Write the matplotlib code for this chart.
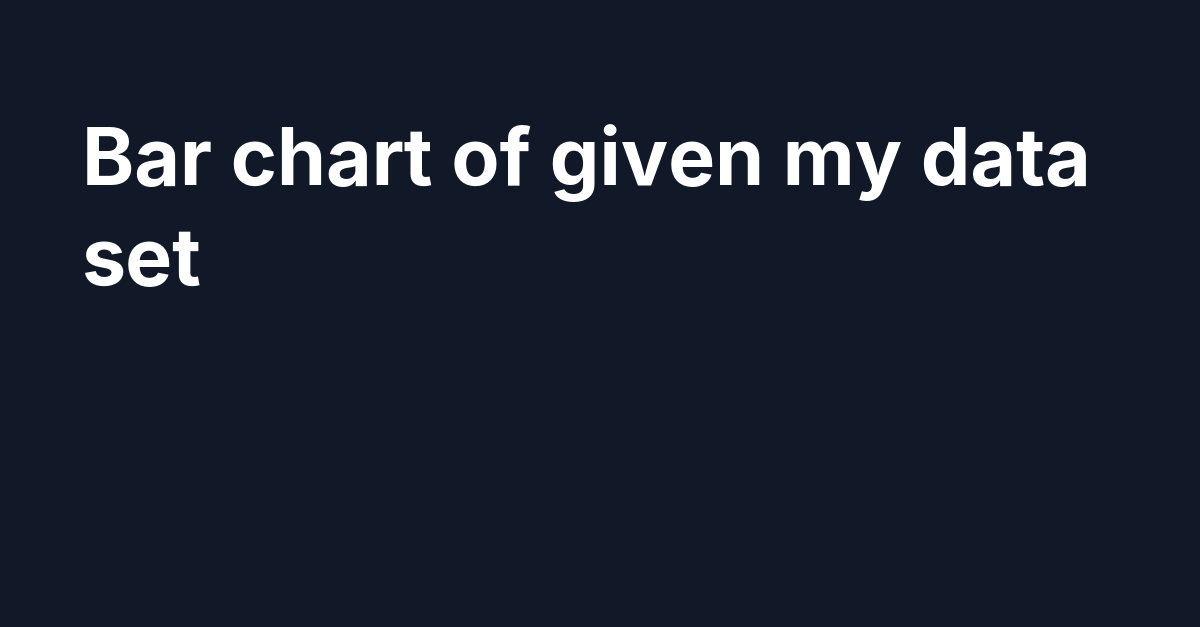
import matplotlib.pyplot as plt

# title text, split the way the card wraps it
title_lines = ["Bar chart of given my data", "set"]
bg_color = "#111827"

fig = plt.figure(figsize=(12, 6.27), dpi=100)
fig.patch.set_facecolor(bg_color)

# baselines in pixels from the top
baselines = [185, 285]
for line, base in zip(title_lines, baselines):
    fig.text(82 / 1200, 1 - base / 627, line, color="white",
             fontsize=56.8, fontweight="bold", family=["Inter", "DejaVu Sans"],
             ha="left", va="baseline")

fig.savefig("out.png", dpi=100, facecolor=bg_color)
